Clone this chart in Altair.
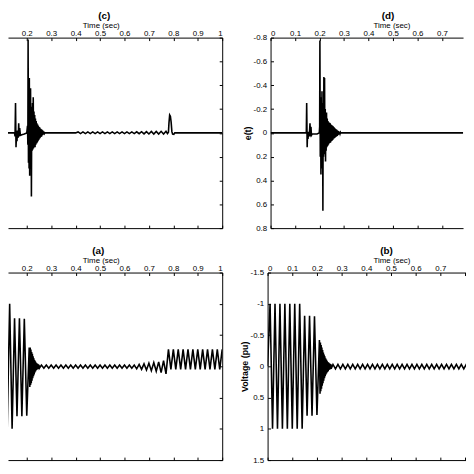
import altair as alt
import pandas as pd

FONT = "Liberation Sans"
HALF = 0.01      # half period of the 50 Hz waveform (s)
FAST = 0.0015    # spacing of the fast post-fault ringing (s)

# ---------------- panel (a): voltage, case 2 (bottom-left) ----------------
a_cycles = [0.0, -1.0, 1.0, -1.0, 1.0, -1.0, 1.0, -1.0, 1.0, -1.0, 1.0, -1.0, 1.0, -1.0, 1.0,
            -0.77, 0.80, -0.77, 0.80, -0.76, 0.79, -0.30]              # t = 0 .. 0.21
a_ring = [0.33, -0.30, 0.30, -0.27, 0.27, -0.23, 0.23, -0.20, 0.19, -0.16, 0.16, -0.13, 0.13,
          -0.10, 0.10, -0.08, 0.08, -0.06, 0.06, -0.05, 0.05, -0.04, 0.04, -0.03, 0.035, -0.025, 0.03]
a_tail = [-0.02, 0.03, -0.02, 0.03, -0.02, 0.03, -0.02, 0.03, -0.02, 0.03,
          -0.02, 0.03, -0.02, 0.03, -0.02, 0.03, -0.02, 0.03, -0.02, 0.03,
          -0.02, 0.03, -0.02, 0.03, -0.02, 0.03, -0.02, 0.03, -0.02, 0.03,
          -0.02, 0.03, -0.02, 0.03, -0.02, 0.03, -0.02, 0.03, -0.02,
          0.04, -0.03, 0.05, -0.04, 0.06, -0.05, 0.07, -0.06, 0.08, -0.07, 0.10, -0.09, 0.12,
          -0.27, 0.05, -0.27, 0.05, -0.27, 0.05, -0.27, 0.05, -0.27, 0.05, -0.27, 0.05,
          -0.27, 0.05, -0.27, 0.05, -0.27, 0.05, -0.27, 0.05, -0.27, 0.05, -0.27]   # t = 0.26 .. 1.00

# ---------------- panel (b): voltage, case 1 (bottom-right) ----------------
b_cycles = [0.0, -1.0, 1.0, -1.0, 1.0, -1.0, 1.0, -1.0, 1.0, -1.0, 1.0, -1.0, 1.0, -1.0, 1.0,
            -0.81, 0.79, -0.81, 0.79, -0.80, 0.78, -0.42]              # t = 0 .. 0.21
b_ring = [0.44, -0.38, 0.40, -0.34, 0.36, -0.30, 0.31, -0.26, 0.27, -0.22, 0.23, -0.19, 0.19,
          -0.16, 0.16, -0.13, 0.13, -0.11, 0.11, -0.09, 0.09, -0.07, 0.08, -0.06, 0.06, -0.05,
          0.05, -0.04, 0.045, -0.035, 0.04]
b_tail = [-0.03, 0.04, -0.03, 0.04, -0.03, 0.04, -0.03, 0.04, -0.03, 0.04,
          -0.03, 0.04, -0.03, 0.04, -0.03, 0.04, -0.03, 0.04, -0.03, 0.04,
          -0.03, 0.04, -0.03, 0.04, -0.03, 0.04, -0.03, 0.04, -0.03, 0.04,
          -0.03, 0.04, -0.03, 0.04, -0.03, 0.04, -0.03, 0.04, -0.03, 0.04,
          -0.03, 0.04, -0.03, 0.04, -0.03, 0.04, -0.03, 0.04, -0.03, 0.04,
          -0.03, 0.04, -0.03, 0.04, -0.03, 0.04, -0.03]                # t = 0.265 .. 0.825

# ---------------- panel (c): e(t), case 2 (top-left) ----------------
c_fault_t = [0.0, 0.150, 0.152, 0.154, 0.156, 0.158, 0.160, 0.162, 0.165, 0.167, 0.169, 0.171,
             0.174, 0.180, 0.190, 0.200, 0.203, 0.2045, 0.2055, 0.207, 0.208, 0.2095, 0.2105,
             0.212, 0.213, 0.2145, 0.2155, 0.217, 0.218, 0.219, 0.2205]
c_fault_v = [0.0, 0.0, 0.03, -0.25, 0.12, 0.02, 0.07, -0.02, 0.04, -0.08, 0.03, -0.04,
             0.02, 0.015, 0.01, 0.0, -0.06, 0.1, -0.785, 0.25, -0.2, 0.3, -0.46,
             0.36, -0.25, 0.2, -0.375, 0.3, -0.2, 0.535, -0.22]
c_ring = [0.15, -0.25, 0.14, -0.30, 0.13, -0.18, 0.12, -0.15, 0.12, -0.12, 0.10, -0.10, 0.09,
          -0.08, 0.08, -0.07, 0.07, -0.06, 0.06, -0.05, 0.05, -0.045, 0.04, -0.035, 0.035,
          -0.03, 0.03, -0.025, 0.02, -0.02, 0.015, -0.012, 0.01, -0.008, 0.005, 0.0]   # from 0.222
c_flat_t = [0.30, 0.40]
c_flat_v = [0.0, 0.0]
c_wig = [-0.008, 0.006, -0.008, 0.006, -0.008, 0.006, -0.008, 0.006, -0.008, 0.006,
         -0.008, 0.006, -0.008, 0.006, -0.008, 0.006, -0.008, 0.006, -0.008, 0.006,
         -0.008, 0.006, -0.008, 0.006, -0.009, 0.007, -0.010, 0.008, -0.011, 0.009,
         -0.012, 0.010, -0.012, 0.010, -0.013, 0.010, -0.013]                        # t = 0.41 .. 0.77
c_bump_t = [0.776, 0.780, 0.782, 0.785, 0.788, 0.791, 0.794, 0.797, 0.802, 0.806, 1.0]
c_bump_v = [0.006, -0.005, -0.08, -0.15, -0.14, -0.09, -0.01, 0.01, 0.012, 0.0, 0.0]

# ---------------- panel (d): e(t), case 1 (top-right) ----------------
d_fault_t = [0.0, 0.146, 0.1475, 0.1495, 0.151, 0.153, 0.155, 0.158, 0.161, 0.163, 0.165, 0.167,
             0.170, 0.190, 0.199, 0.2005, 0.2015, 0.203, 0.2043, 0.2057, 0.207, 0.2085, 0.210,
             0.2115, 0.2125, 0.2137, 0.215, 0.2163, 0.2177, 0.2191, 0.2205, 0.2219, 0.2233,
             0.2245, 0.2258, 0.227, 0.2285]
d_fault_v = [0.0, 0.0, -0.25, 0.12, 0.0, 0.05, -0.01, 0.03, -0.08, 0.03, -0.05, 0.02,
             0.01, 0.01, 0.0, -0.05, -0.775, 0.2, -0.3, 0.35, -0.25, 0.25, -0.35,
             0.3, -0.2, 0.654, -0.25, 0.2, -0.47, 0.18, -0.46, 0.15, -0.2,
             0.24, -0.17, 0.15, -0.17]
d_ring = [0.12, -0.12, 0.11, -0.10, 0.10, -0.09, 0.09, -0.085, 0.085, -0.08, 0.08, -0.07, 0.07,
          -0.065, 0.065, -0.06, 0.06, -0.055, 0.05, -0.05, 0.045, -0.04, 0.04, -0.035, 0.035,
          -0.03, 0.03, -0.025, 0.025, -0.02, 0.02, -0.015, 0.015, -0.01, 0.01, -0.008, 0.006,
          -0.004, 0.002, 0.0]                                                        # from 0.23
d_end_t = [1.0]
d_end_v = [0.0]

X_TICKS = [0.0, 0.1, 0.2, 0.3, 0.4, 0.5, 0.6, 0.7, 0.8, 0.9, 1.0]
LEFT_LABELS = [0.2, 0.3, 0.4, 0.5, 0.6, 0.7, 0.8, 0.9, 1.0]
RIGHT_LABELS = [0.0, 0.1, 0.2, 0.3, 0.4, 0.5, 0.6, 0.7]
E_TICKS = [-0.8, -0.6, -0.4, -0.2, 0.0, 0.2, 0.4, 0.6, 0.8]
V_TICKS = [-1.5, -1.0, -0.5, 0.0, 0.5, 1.0, 1.5]


def seq(t0, step, vals):
    return [round(t0 + i * step, 6) for i in range(len(vals))]


df_a = pd.DataFrame({"t": seq(0.0, HALF, a_cycles) + seq(0.2125, FAST, a_ring) + seq(0.26, HALF, a_tail),
                     "v": a_cycles + a_ring + a_tail})
df_b = pd.DataFrame({"t": seq(0.0, HALF, b_cycles) + seq(0.2125, FAST, b_ring) + seq(0.265, HALF, b_tail),
                     "v": b_cycles + b_ring + b_tail})
df_c = pd.DataFrame({"t": c_fault_t + seq(0.222, FAST, c_ring) + c_flat_t + seq(0.41, HALF, c_wig) + c_bump_t,
                     "v": c_fault_v + c_ring + c_flat_v + c_wig + c_bump_v})
df_d = pd.DataFrame({"t": d_fault_t + seq(0.23, FAST, d_ring) + d_end_t,
                     "v": d_fault_v + d_ring + d_end_v})

LBL = "'' + datum.value"


def panel(df, xdom, ydom, yvals, labels, W, H, title, title_dx, xtitle_x, ytitle=None):
    xs = alt.Scale(domain=xdom, nice=False, zero=False)
    ys = alt.Scale(domain=ydom, nice=False, zero=False, reverse=True)
    xt = [v for v in X_TICKS if xdom[0] - 1e-9 <= v <= xdom[1] + 1e-9]
    corners = pd.DataFrame({"t": list(xdom), "v": list(ydom)})

    ax_top = alt.Axis(orient="top", values=labels, labelExpr=LBL, tickSize=0, domain=True,
                      domainColor="black", labelPadding=0, labelFontSize=8, labelFont=FONT,
                      labelColor="black", labelOverlap=False, title="Time (sec)", titleFont=FONT,
                      titleFontSize=8, titleFontWeight="normal", titleColor="black",
                      titlePadding=0, titleX=xtitle_x, grid=False)
    ax_top_ticks = alt.Axis(orient="bottom", offset=-H, values=xt, labels=False, tickSize=3,
                            tickColor="black", domain=False, title=None, grid=False)
    ax_bot = alt.Axis(orient="top", offset=-H, values=xt, labels=False, tickSize=3,
                      tickColor="black", domain=True, domainColor="black", title=None, grid=False)

    if ytitle is not None:
        y1 = alt.Axis(orient="left", values=yvals, labelExpr=LBL, tickSize=0, domain=True,
                      domainColor="black", labelPadding=4, labelFontSize=8, labelFont=FONT,
                      labelColor="black", title=ytitle, titleFont=FONT, titleFontSize=9,
                      titleFontWeight="bold", titleColor="black", titlePadding=1, grid=False)
        y2 = alt.Axis(orient="right", offset=-W, values=yvals, labels=False, tickSize=3,
                      tickColor="black", domain=False, title=None, grid=False)
    else:
        y1 = alt.Axis(orient="left", offset=-W, values=yvals, labels=False, tickSize=3,
                      tickColor="black", domain=True, domainColor="black", title=None, grid=False)
        y2 = None

    line = alt.Chart(df).mark_line(color="black", strokeWidth=1.6, clip=True).encode(
        x=alt.X("t:Q", scale=xs, axis=ax_top),
        y=alt.Y("v:Q", scale=ys, axis=y1),
    )
    ghost1 = alt.Chart(corners).mark_point(opacity=0, size=0).encode(
        x=alt.X("t:Q", scale=xs, axis=ax_top_ticks),
        y=alt.Y("v:Q", scale=ys, axis=y2),
    )
    ghost2 = alt.Chart(corners).mark_point(opacity=0, size=0).encode(
        x=alt.X("t:Q", scale=xs, axis=ax_bot),
        y=alt.Y("v:Q", scale=ys, axis=None),
    )
    return alt.layer(line, ghost1, ghost2).resolve_axis(x="independent", y="independent").properties(
        width=W, height=H,
        title=alt.TitleParams(text=title, font=FONT, fontSize=10, fontWeight="bold", color="black",
                              frame="group", anchor="middle", dx=title_dx, offset=1),
    )


pc = panel(df_c, [0.1232, 1.0], [-0.8, 0.8], E_TICKS, LEFT_LABELS, 217, 193, "(c)", -11, 94)
pd_ = panel(df_d, [0.0, 0.786], [-0.8, 0.8], E_TICKS, RIGHT_LABELS, 195, 193, "(d)", 21.5, 122.5, "e(t)")
pa = panel(df_a, [0.1232, 1.0], [-1.5, 1.5], V_TICKS, LEFT_LABELS, 217, 190, "(a)", -17, 94)
pb = panel(df_b, [0.0, 0.804], [-1.5, 1.5], V_TICKS, RIGHT_LABELS, 201, 190, "(b)", 20, 125.5, "Voltage (pu)")

chart = alt.vconcat(
    alt.hconcat(pc, pd_, spacing=20),
    alt.hconcat(pa, pb, spacing=17),
    spacing=14,
).configure_view(strokeWidth=0).properties(padding=0, background="white")

chart.save("out.html", embed_options={"renderer": "svg", "actions": False})
